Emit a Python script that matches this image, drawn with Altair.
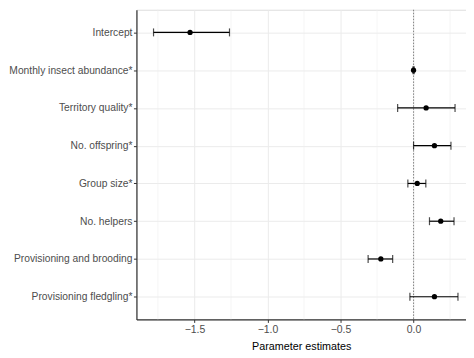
import altair as alt
import pandas as pd

terms = ["Intercept", "Monthly insect abundance*", "Territory quality*", "No. offspring*",
         "Group size*", "No. helpers", "Provisioning and brooding", "Provisioning fledgling*"]
estimate = [-1.53, 0.0, 0.086, 0.143, 0.025, 0.186, -0.224, 0.143]
lower = [-1.78, -0.004, -0.109, 0.0, -0.039, 0.109, -0.311, -0.025]
upper = [-1.26, 0.004, 0.284, 0.256, 0.084, 0.277, -0.143, 0.304]
major_ticks = [-1.5, -1.0, -0.5, 0.0]
minor_ticks = [-1.75, -1.25, -0.75, -0.25, 0.25]

df = pd.DataFrame({"term": terms, "estimate": estimate, "lower": lower, "upper": upper})
minor_df = pd.DataFrame({"v": minor_ticks})
zero_df = pd.DataFrame({"v": [0.0]})

FONT = "Liberation Sans"
xdom = [-1.897, 0.359]
xscale = alt.Scale(domain=xdom, nice=False, zero=False)
yscale = alt.Scale(type="point", padding=0.6, domain=terms)

minor = alt.Chart(minor_df).mark_rule(color="#EEEEEE", strokeWidth=0.6).encode(
    x=alt.X("v:Q", scale=xscale)
)

base = alt.Chart(df)

points_axes = base.mark_circle(size=28, color="black", opacity=1).encode(
    x=alt.X("estimate:Q", scale=xscale,
            axis=alt.Axis(values=major_ticks, format=".1f", title="Parameter estimates",
                          grid=True, gridColor="#EBEBEB", gridWidth=1,
                          domainColor="#333333", domainWidth=1.2,
                          tickColor="#333333", tickSize=3, tickWidth=1,
                          labelColor="#4D4D4D", labelFontSize=10.5, labelFont=FONT,
                          labelPadding=2, titleFont=FONT, titleFontSize=10.8,
                          titleFontWeight="normal", titleColor="black", titlePadding=6)),
    y=alt.Y("term:N", scale=yscale, sort=terms,
            axis=alt.Axis(title=None, grid=True, gridColor="#EBEBEB", gridWidth=1,
                          domainColor="#333333", domainWidth=1.2,
                          tickColor="#333333", tickSize=3, tickWidth=1,
                          labelColor="#4D4D4D", labelFontSize=10.3, labelFont=FONT,
                          labelPadding=1.5)),
)

zero_line = alt.Chart(zero_df).mark_rule(color="#555555", strokeWidth=0.7, strokeDash=[1.5, 1.5]).encode(
    x=alt.X("v:Q", scale=xscale)
)

bars = base.mark_rule(color="black", strokeWidth=1.2).encode(
    x=alt.X("lower:Q", scale=xscale),
    x2="upper:Q",
    y=alt.Y("term:N", scale=yscale, sort=terms),
)

cap_lo = base.mark_tick(color="black", thickness=1.2, size=8, orient="vertical").encode(
    x=alt.X("lower:Q", scale=xscale),
    y=alt.Y("term:N", scale=yscale, sort=terms),
)
cap_hi = base.mark_tick(color="black", thickness=1.2, size=8, orient="vertical").encode(
    x=alt.X("upper:Q", scale=xscale),
    y=alt.Y("term:N", scale=yscale, sort=terms),
)

chart = alt.layer(minor, zero_line, bars, cap_lo, cap_hi, points_axes).properties(
    width=331, height=311, padding=0
).configure_view(stroke=None).configure(font=FONT)

chart.save("out.html", embed_options={"renderer": "svg", "actions": False})
